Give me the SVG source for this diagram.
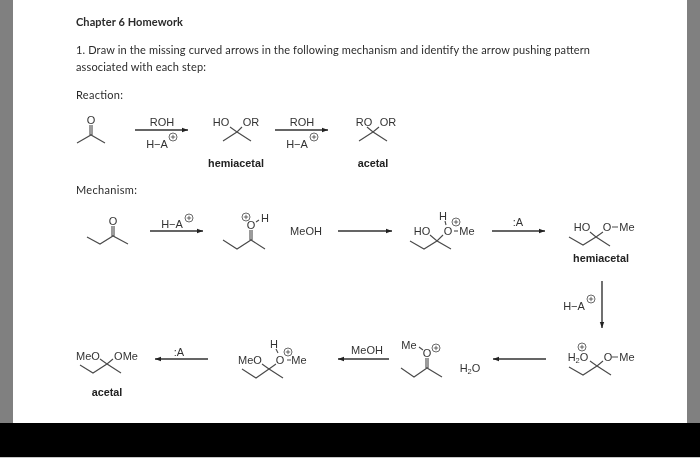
<svg xmlns="http://www.w3.org/2000/svg" width="700" height="458" viewBox="0 0 700 458">
<defs>
<style>
.doc{font-family:"Lato","Open Sans",sans-serif;font-size:11px;fill:#2b2b2b}
.t{font-family:"Liberation Sans",Arial,sans-serif;font-size:11px;fill:#333}
.b{font-family:"Liberation Sans",Arial,sans-serif;font-size:10.8px;font-weight:bold;fill:#222;text-anchor:middle}
.m{text-anchor:middle}
.bond{fill:none;stroke:#4a4a4a;stroke-width:1.1}
.arr{fill:none;stroke:#333;stroke-width:1.4;marker-end:url(#ah)}
.pc{fill:none;stroke:#444;stroke-width:.8}
</style>
<marker id="ah" markerWidth="7" markerHeight="6" refX="6" refY="3" orient="auto" markerUnits="userSpaceOnUse"><path d="M0 .8L6 3L0 5.2Z" fill="#222"/></marker>
<g id="plus"><circle r="4" class="pc"/><path d="M-2.2 0H2.2M0-2.2V2.2" class="pc"/></g>
<filter id="soft" x="0" y="0" width="100%" height="100%"><feGaussianBlur stdDeviation="0.35"/></filter>
</defs>
<rect width="700" height="458" fill="#808080"/>
<rect x="13" y="0" width="674" height="424" fill="#fff"/>
<rect y="423" width="700" height="34" fill="#000"/>
<rect y="457" width="700" height="1" fill="#c8c8c8"/>
<g filter="url(#soft)">
<g id="heading">
<text x="76" y="26" class="doc" textLength="107" style="font-weight:700">Chapter 6 Homework</text>
<text x="76" y="54" class="doc" textLength="514">1. Draw in the missing curved arrows in the following mechanism and identify the arrow pushing pattern</text>
<text x="76" y="71" class="doc" textLength="130">associated with each step:</text>
<text x="76" y="99" class="doc" textLength="47">Reaction:</text>
<text x="76" y="194" class="doc" textLength="61">Mechanism:</text>
</g>
<g id="connectors">
<path class="arr" d="M135 130H188"/>
<path class="arr" d="M275 130H328"/>
<path class="arr" d="M150 231H203"/>
<path class="arr" d="M338 231H392"/>
<path class="arr" d="M492 231H545"/>
<path class="arr" d="M602 281V328"/>
<path class="arr" d="M546 359H493"/>
<path class="arr" d="M389 359H338"/>
<path class="arr" d="M208 359H155"/>
</g>
<g id="r-ketone">
<path class="bond" d="M77 143L91 135L105 143M90 135V125M92 135V125"/>
<text x="91" y="124" class="t m">O</text>
</g>
<g id="r-label-1"><text x="162" y="126" class="t m">ROH</text><text x="157" y="148" class="t m">H−A</text><use href="#plus" x="173" y="137"/></g>
<g id="r-hemiacetal">
<path class="bond" d="M223 141L237 132L251 141M230 127L237 132L242 127"/>
<text x="221" y="126" class="t m">HO</text><text x="251" y="126" class="t m">OR</text>
<text x="236" y="167" class="b">hemiacetal</text>
</g>
<g id="r-label-2"><text x="302" y="126" class="t m">ROH</text><text x="297" y="148" class="t m">H−A</text><use href="#plus" x="314" y="137"/></g>
<g id="r-acetal">
<path class="bond" d="M359 141L373 132L387 141M367 127L373 132L379 127"/>
<text x="364" y="126" class="t m">RO</text><text x="388" y="126" class="t m">OR</text>
<text x="373" y="167" class="b">acetal</text>
</g>
<g id="m-ketone">
<path class="bond" d="M87 237L100 244L113 236L128 244M112 236V226M114 236V226"/>
<text x="113" y="225" class="t m">O</text>
</g>
<g id="m-label-1"><text x="172" y="228" class="t m">H−A</text><use href="#plus" x="189" y="218"/></g>
<g id="m-protonated">
<path class="bond" d="M223 240L237 249L251 240L265 249M250 240V230M252 240V230M256 222L259 220"/>
<text x="251" y="229" class="t m">O</text><text x="265" y="222" class="t m">H</text>
<use href="#plus" x="246" y="217"/>
</g>
<text id="m-meoh-1" x="306" y="235" class="t m">MeOH</text>
<g id="m-oxonium-1">
<path class="bond" d="M410 241L424 249L437 241L451 249M430 235L437 241L443 235M445 221L446 225" />
<text x="422" y="235" class="t m">HO</text><text x="448" y="235" class="t m">O</text><text x="467" y="235" class="t m">Me</text><text x="443" y="220" class="t m">H</text>
<path class="bond" d="M454 231H458"/>
<use href="#plus" x="456" y="222"/>
</g>
<text id="m-a-1" x="518" y="226" class="t m">:A</text>
<g id="m-hemiacetal">
<path class="bond" d="M569 237L583 245L596 237L610 246M590 232L596 237L603 232M612 227H618"/>
<text x="582" y="231" class="t m">HO</text><text x="607" y="231" class="t m">O</text><text x="627" y="231" class="t m">Me</text>
<text x="601" y="262" class="b">hemiacetal</text>
</g>
<g id="m-label-ha"><text x="574" y="310" class="t m">H−A</text><use href="#plus" x="591" y="299"/></g>
<g id="m-oxonium-water">
<path class="bond" d="M569 367L583 375L597 366L611 375M590 361L597 366L603 361M612 357H618"/>
<text x="578" y="361" class="t m">H<tspan font-size="7.5" dy="2">2</tspan><tspan dy="-2">O</tspan></text><text x="608" y="361" class="t m">O</text><text x="627" y="361" class="t m">Me</text>
<use href="#plus" x="582" y="347"/>
</g>
<text id="m-h2o" x="470" y="372" class="t m">H<tspan font-size="7.5" dy="2">2</tspan><tspan dy="-2">O</tspan></text>
<g id="m-carbenium">
<path class="bond" d="M401 368L414 377L427 368L442 377M426 368V358M428 368V358M419 347L423 350"/>
<text x="409" y="349" class="t m">Me</text><text x="427" y="357" class="t m">O</text>
<use href="#plus" x="436" y="348"/>
</g>
<text id="m-meoh-2" x="367" y="354" class="t m">MeOH</text>
<g id="m-oxonium-2">
<path class="bond" d="M242 369L256 378L269 369L283 378M262 364L269 369L276 364M276 349L278 353M287 360H291"/>
<text x="250" y="364" class="t m">MeO</text><text x="280" y="364" class="t m">O</text><text x="299" y="364" class="t m">Me</text><text x="274" y="348" class="t m">H</text>
<use href="#plus" x="288" y="352"/>
</g>
<text id="m-a-2" x="179" y="356" class="t m">:A</text>
<g id="m-acetal">
<path class="bond" d="M80 365L93 373L107 364L121 373M100 359L107 364L113 359"/>
<text x="88" y="360" class="t m">MeO</text><text x="126" y="360" class="t m">OMe</text>
<text x="107" y="396" class="b">acetal</text>
</g>
</g>
</svg>
